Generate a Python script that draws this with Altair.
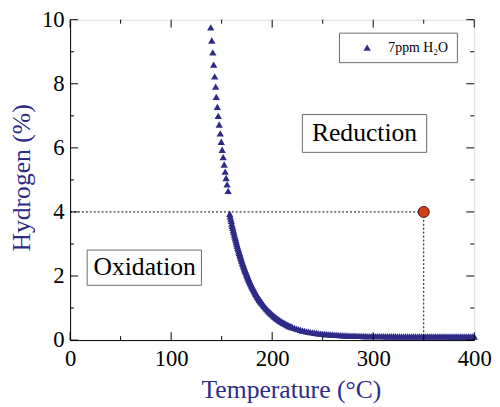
import altair as alt
import pandas as pd

# ---------------- data ----------------
temp_upper = [139.2, 140.2, 141.2, 142.1, 143.1, 144.1, 144.7, 145.7, 146.6, 147.6,
              148.6, 149.6, 150.5, 151.5, 152.5, 153.5, 154.4, 155.4, 156.4]
h2_upper = [9.76, 9.35, 8.98, 8.60, 8.23, 7.91, 7.59, 7.28, 7.00, 6.73,
            6.45, 6.19, 5.94, 5.71, 5.48, 5.26, 5.06, 4.86, 4.66]

temp_lower = [158, 158.5, 159, 159.5, 160, 160.5, 161, 161.5, 162, 162.5,
              163, 163.5, 164, 164.5, 165, 165.5, 166, 166.5, 167, 167.5,
              168, 168.5, 169, 169.5, 170, 170.5, 171, 171.5, 172, 172.5,
              173, 173.5, 174, 174.5, 175, 175.5, 176, 176.5, 177, 177.5,
              178, 178.5, 179, 179.5, 180, 180.5, 181, 181.5, 182, 182.5,
              183, 183.5, 184, 184.5, 185, 185.5, 186, 186.5, 187, 187.5,
              188, 188.5, 189, 189.5, 190,
              191, 192, 193, 194, 195, 196, 197, 198, 199, 200,
              201, 202, 203, 204, 205, 206, 207, 208, 209, 210,
              211, 212, 213, 214, 215, 216, 217, 218, 219, 220,
              222, 224, 226, 228, 230, 232, 234, 236, 238, 240,
              242, 244, 246, 248, 250, 252, 254, 256, 258, 260,
              262, 264, 266, 268, 270, 272, 274, 276, 278, 280,
              282, 284, 286, 288, 290, 292, 294, 296, 298, 300,
              302, 304, 306, 308, 310, 312, 314, 316, 318, 320,
              322, 324, 326, 328, 330, 332, 334, 336, 338, 340,
              342, 344, 346, 348, 350, 352, 354, 356, 358, 360,
              362, 364, 366, 368, 370, 372, 374, 376, 378, 380,
              382, 384, 386, 388, 390, 392, 394, 396, 398, 400]
h2_lower = [3.94, 3.86, 3.79, 3.72, 3.64, 3.57, 3.50, 3.43, 3.37, 3.30,
            3.24, 3.18, 3.12, 3.06, 3.00, 2.94, 2.88, 2.83, 2.77, 2.72,
            2.67, 2.62, 2.57, 2.52, 2.47, 2.42, 2.38, 2.33, 2.29, 2.24,
            2.20, 2.16, 2.12, 2.08, 2.04, 2.00, 1.96, 1.92, 1.89, 1.85,
            1.81, 1.78, 1.75, 1.71, 1.68, 1.65, 1.62, 1.59, 1.56, 1.53,
            1.50, 1.47, 1.44, 1.42, 1.39, 1.36, 1.34, 1.31, 1.29, 1.26,
            1.24, 1.22, 1.20, 1.17, 1.15,
            1.11, 1.07, 1.03, 0.99, 0.96, 0.92, 0.89, 0.86, 0.83, 0.80,
            0.77, 0.74, 0.72, 0.69, 0.67, 0.65, 0.62, 0.60, 0.58, 0.56,
            0.54, 0.53, 0.51, 0.49, 0.47, 0.46, 0.44, 0.43, 0.42, 0.40,
            0.38, 0.36, 0.34, 0.32, 0.30, 0.29, 0.27, 0.26, 0.25, 0.24,
            0.23, 0.22, 0.21, 0.20, 0.195, 0.19, 0.185, 0.18, 0.175, 0.17,
            0.165, 0.16, 0.157, 0.154, 0.15, 0.147, 0.144, 0.141, 0.139, 0.137,
            0.135, 0.133, 0.131, 0.13, 0.128, 0.127, 0.126, 0.125, 0.124, 0.123,
            0.123, 0.122, 0.122, 0.121, 0.121, 0.120, 0.120, 0.120, 0.119, 0.119,
            0.119, 0.118, 0.118, 0.118, 0.118, 0.117, 0.117, 0.117, 0.117, 0.116,
            0.116, 0.116, 0.116, 0.116, 0.115, 0.115, 0.115, 0.115, 0.115, 0.115,
            0.114, 0.114, 0.114, 0.114, 0.114, 0.114, 0.114, 0.113, 0.113, 0.113,
            0.113, 0.113, 0.113, 0.113, 0.113, 0.112, 0.112, 0.112, 0.112, 0.112]

series_name = "7ppm H₂O"
crit_temp = 350
crit_h2 = 4

x_major = [0, 100, 200, 300, 400]
x_minor = [50, 150, 250, 350]
y_major = [0, 2, 4, 6, 8, 10]
y_minor = [1, 3, 5, 7, 9]

region_labels = ["Reduction", "Oxidation"]
region_temp = [291.4, 73.8]
region_h2 = [6.45, 2.27]
region_box_t1 = [229.9, 16.9]
region_box_t2 = [352.9, 130.0]
region_box_h1 = [7.04, 2.81]
region_box_h2 = [5.86, 1.71]

legend_box = {"T": 266.6, "T2": 383.3, "H": 9.58, "H2": 8.66}
legend_sym = {"T": 294.0, "H": 9.13}
legend_txt = {"T": 315.0, "H": 9.13}

# ---------------- style ----------------
W, H = 410, 325
NAVY = "#2e2b88"
FONT = "Liberation Serif"

xs = alt.Scale(domain=[0, 400], nice=False, zero=False)
ys = alt.Scale(domain=[0, 10], nice=False, zero=False)

x_axis = alt.Axis(values=x_major, ticks=False, tickSize=0, grid=False, labelFlush=False,
                  labelOverlap=False, labelFont=FONT, labelFontSize=23, labelColor="black",
                  labelPadding=8, domainColor="black", domainWidth=1,
                  titleFont=FONT, titleFontSize=26,
                  titleFontWeight="normal", titleColor=NAVY, titleX=224, titleY=58,
                  titleAlign="center", titleBaseline="alphabetic")
y_axis = alt.Axis(values=y_major, ticks=False, tickSize=0, grid=False, labelFlush=False,
                  labelOverlap=False, labelFont=FONT, labelFontSize=23, labelColor="black",
                  labelPadding=6, domainColor="black", domainWidth=1,
                  titleFont=FONT, titleFontSize=26,
                  titleFontWeight="normal", titleColor=NAVY, titleAngle=270,
                  titleX=-41, titleY=160, titleAlign="center", titleBaseline="alphabetic")

X_TITLE = "Temperature (°C)"
Y_TITLE = "Hydrogen (%)"


def xenc(field="T"):
    return alt.X(f"{field}:Q", scale=xs, axis=x_axis, title=X_TITLE)


def yenc(field="H"):
    return alt.Y(f"{field}:Q", scale=ys, axis=y_axis, title=Y_TITLE)


series = pd.DataFrame({"T": temp_upper + temp_lower, "H": h2_upper + h2_lower})

points = alt.Chart(series).mark_point(shape="triangle-up", filled=True, size=55,
                                      color=NAVY, opacity=1).encode(x=xenc(), y=yenc())

# dashed guide lines
hline = alt.Chart(pd.DataFrame({"T": [0], "T2": [crit_temp], "H": [crit_h2]})).mark_rule(
    color="black", strokeWidth=1, strokeDash=[2, 2]).encode(x=xenc(), x2="T2:Q", y=yenc())
vline = alt.Chart(pd.DataFrame({"T": [crit_temp], "H": [0], "H2": [crit_h2]})).mark_rule(
    color="black", strokeWidth=1, strokeDash=[2, 2]).encode(x=xenc(), y=yenc(), y2="H2:Q")

crit_pt = alt.Chart(pd.DataFrame({"T": [crit_temp], "H": [crit_h2]})).mark_point(
    shape="circle", filled=True, size=125, fill="#d0401a", stroke="#4a1206",
    strokeWidth=1, opacity=1).encode(x=xenc(), y=yenc())

# region label boxes
regions = pd.DataFrame({"label": region_labels, "T": region_box_t1, "T2": region_box_t2,
                        "H": region_box_h1, "H2": region_box_h2})
region_txt = pd.DataFrame({"label": region_labels, "T": region_temp, "H": region_h2})
boxes = alt.Chart(regions).mark_rect(fill="white", stroke="#6a6a6a", strokeWidth=1).encode(
    x=xenc(), x2="T2:Q", y=yenc(), y2="H2:Q")
labels = alt.Chart(region_txt).mark_text(font=FONT, fontSize=26, color="black",
                                         align="center", baseline="middle").encode(
    x=xenc(), y=yenc(), text="label:N")

# legend
leg_box = alt.Chart(pd.DataFrame([legend_box])).mark_rect(
    fill="white", stroke="#6a6a6a", strokeWidth=1).encode(
    x=xenc(), x2="T2:Q", y=yenc(), y2="H2:Q")
leg_sym = alt.Chart(pd.DataFrame([legend_sym])).mark_point(
    shape="triangle-up", filled=True, size=55, color=NAVY, opacity=1).encode(x=xenc(), y=yenc())
leg_txt = alt.Chart(pd.DataFrame([{**legend_txt, "name": series_name}])).mark_text(
    font=FONT, fontSize=14, color="black", align="left", baseline="middle").encode(
    x=xenc(), y=yenc(), text="name:N")


# inward ticks (bottom/top/left/right)
def xticks(vals, length):
    df = pd.DataFrame({"T": vals})
    bot = alt.Chart(df).mark_rule(color="black", strokeWidth=1).encode(
        x=xenc(), y=alt.value(H), y2=alt.value(H - length))
    top = alt.Chart(df).mark_rule(color="black", strokeWidth=1).encode(
        x=xenc(), y=alt.value(0), y2=alt.value(length))
    return [bot, top]


def yticks(vals, length):
    df = pd.DataFrame({"H": vals})
    left = alt.Chart(df).mark_rule(color="black", strokeWidth=1).encode(
        y=yenc(), x=alt.value(0), x2=alt.value(length))
    right = alt.Chart(df).mark_rule(color="black", strokeWidth=1).encode(
        y=yenc(), x=alt.value(W), x2=alt.value(W - length))
    return [left, right]


tick_layers = xticks(x_major, 8) + xticks(x_minor, 4) + yticks(y_major, 8) + yticks(y_minor, 4)

chart = alt.layer(
    points, hline, vline, boxes, labels, leg_box, leg_sym, leg_txt, crit_pt, *tick_layers
).properties(
    width=W, height=H,
    autosize=alt.AutoSizeParams(type="none"),
    padding={"left": 63, "top": 9, "right": 18, "bottom": 65},
).configure_view(stroke="black", strokeWidth=1).configure(background="white")

chart.save("out.html", embed_options={"renderer": "svg", "actions": False})
